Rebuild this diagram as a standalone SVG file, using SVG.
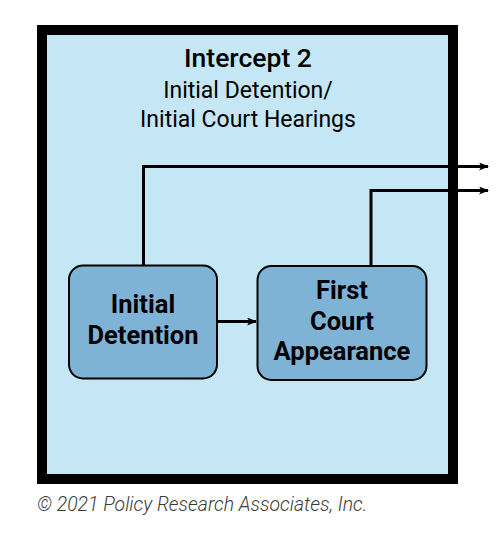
<svg xmlns="http://www.w3.org/2000/svg" width="504" height="540" viewBox="0 0 504 540">
<defs>
<style>
.t{font-family:Roboto,"Liberation Sans",sans-serif;fill:#000;text-anchor:middle}
.h{font-weight:500;font-size:26.5px}
.b{font-weight:700;font-size:25.5px}
.s{font-size:23px}
.node{fill:#7FB3D6;stroke:#000;stroke-width:2}
.c{fill:none;stroke:#000;stroke-width:3}
</style>
<marker id="ah" markerWidth="10" markerHeight="8" refX="9" refY="4" orient="auto" markerUnits="userSpaceOnUse">
<path d="M0,0 L10,4 L0,8 L2.5,4 Z" fill="#000"/>
</marker>
</defs>
<rect width="504" height="540" fill="#fff"/>
<g id="intercept">
<rect x="42" y="30" width="411" height="449" fill="#C5E7F5" stroke="#000" stroke-width="10"/>
<text class="t h" x="248" y="66.5">Intercept 2</text>
<text class="t s" x="248" y="98">Initial Detention/</text>
<text class="t s" x="248" y="127">Initial Court Hearings</text>
</g>
<g id="connectors">
<path class="c" d="M143.5,265 V166.5 H488" marker-end="url(#ah)"/>
<path class="c" d="M371,266 V190.5 H488" marker-end="url(#ah)"/>
<path class="c" d="M217,321.5 H256" marker-end="url(#ah)"/>
</g>
<g id="initial-detention">
<rect class="node" x="69" y="265.5" width="148" height="113" rx="14"/>
<text class="t b" x="143" y="313">Initial</text>
<text class="t b" x="143" y="344">Detention</text>
</g>
<g id="first-court-appearance">
<rect class="node" x="257.5" y="266" width="169" height="114" rx="14"/>
<text class="t b" x="342" y="299">First</text>
<text class="t b" x="342" y="330">Court</text>
<text class="t b" x="342" y="360">Appearance</text>
</g>
<text x="37" y="511" font-family="Roboto,'Liberation Sans',sans-serif" font-style="italic" font-weight="300" font-size="19.4" fill="#3a3a3a">© 2021 Policy Research Associates, Inc.</text>
</svg>
